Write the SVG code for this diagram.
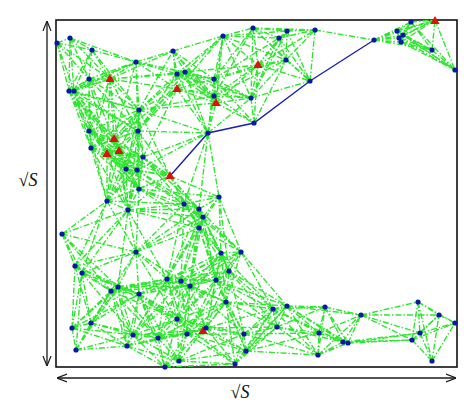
<svg xmlns="http://www.w3.org/2000/svg" xmlns:xlink="http://www.w3.org/1999/xlink" width="474" height="420" viewBox="0 0 474 420">
<style>
.e{fill:none;stroke:#2ee62e;stroke-width:1.4;stroke-dasharray:6 2 1.5 2}
.n{fill:#0a18a8}
.t{fill:#e01010}
.ax{fill:none;stroke:#1a1a1a;stroke-width:1.3}
.lb{font-family:"Liberation Serif",serif;font-size:18px;fill:#111}
</style>
<defs>
<marker id="ah" viewBox="0 0 10 10" refX="10" refY="5" markerWidth="10" markerHeight="10" markerUnits="userSpaceOnUse" orient="auto-start-reverse"><path d="M0 1L10 5L0 9" fill="none" stroke="#1a1a1a" stroke-width="1.2"/></marker>
<path id="tri" d="M0 -5L4.6 3L-4.6 3Z"/>
</defs>
<rect x="0" y="0" width="474" height="420" fill="#fff"/>
<rect x="56" y="20" width="401" height="347" fill="none" stroke="#111" stroke-width="1.6"/>
<line class="ax" x1="47" y1="21" x2="47" y2="366" marker-start="url(#ah)" marker-end="url(#ah)"/>
<line class="ax" x1="57" y1="378" x2="456" y2="378" marker-start="url(#ah)" marker-end="url(#ah)"/>
<text class="lb" x="28" y="186" text-anchor="middle">√<tspan font-style="italic">S</tspan></text>
<text class="lb" x="240" y="398" text-anchor="middle">√<tspan font-style="italic">S</tspan></text>
<g id="connectors" class="e">
<path d="M57 43L69 91M57 43L70 38M57 43L74 91M57 43L89 79M57 43L92 50M57 43L110 79"/>
<path d="M62 234L75 266M62 234L82 273M62 234L107 201M62 234L111 291M62 234L118 287M62 234L128 210M62 234L136 252"/>
<path d="M69 91L70 38M69 91L74 91M69 91L89 79M69 91L89 131M69 91L91 148M69 91L92 50M69 91L107 154M69 91L110 79M69 91L114 139M69 91L119 151M69 91L136 62M69 91L138 131M69 91L139 110"/>
<path d="M70 38L74 91M70 38L89 79M70 38L92 50M70 38L110 79M70 38L136 62"/>
<path d="M72 328L75 266M72 328L76 350M72 328L82 273M72 328L91 323M72 328L111 291M72 328L118 287M72 328L127 346M72 328L133 335M72 328L139 294"/>
<path d="M74 91L89 79M74 91L89 131M74 91L91 148M74 91L92 50M74 91L107 154M74 91L110 79M74 91L114 139M74 91L119 151M74 91L136 62M74 91L138 131M74 91L139 110"/>
<path d="M75 266L82 273M75 266L91 323M75 266L107 201M75 266L111 291M75 266L118 287M75 266L128 210M75 266L136 252M75 266L139 294"/>
<path d="M76 350L82 273M76 350L91 323M76 350L111 291M76 350L118 287M76 350L127 346M76 350L133 335"/>
<path d="M82 273L91 323M82 273L107 201M82 273L111 291M82 273L118 287M82 273L128 210M82 273L133 335M82 273L136 252M82 273L139 294"/>
<path d="M89 79L89 131M89 79L91 148M89 79L92 50M89 79L107 154M89 79L110 79M89 79L114 139M89 79L119 151M89 79L136 62M89 79L138 131M89 79L139 110"/>
<path d="M89 131L91 148M89 131L107 154M89 131L107 201M89 131L110 79M89 131L114 139M89 131L119 151M89 131L126 169M89 131L137 170M89 131L138 131M89 131L139 110M89 131L139 189M89 131L143 157"/>
<path d="M91 148L107 154M91 148L107 201M91 148L110 79M91 148L114 139M91 148L119 151M91 148L126 169M91 148L128 210M91 148L137 170M91 148L138 131M91 148L139 110M91 148L139 189M91 148L143 157"/>
<path d="M91 323L111 291M91 323L118 287M91 323L127 346M91 323L133 335M91 323L139 294M91 323L158 338"/>
<path d="M92 50L110 79M92 50L136 62M92 50L139 110"/>
<path d="M107 154L107 201M107 154L110 79M107 154L114 139M107 154L119 151M107 154L126 169M107 154L128 210M107 154L137 170M107 154L138 131M107 154L139 110M107 154L139 189M107 154L143 157M107 154L170 176"/>
<path d="M107 201L114 139M107 201L119 151M107 201L126 169M107 201L128 210M107 201L136 252M107 201L137 170M107 201L138 131M107 201L139 189M107 201L143 157M107 201L170 176M107 201L184 204"/>
<path d="M110 79L114 139M110 79L119 151M110 79L136 62M110 79L138 131M110 79L139 110M110 79L173 51M110 79L177 74M110 79L177 89M110 79L185 72"/>
<path d="M111 291L118 287M111 291L127 346M111 291L133 335M111 291L136 252M111 291L139 294M111 291L158 338M111 291L167 279M111 291L177 319M111 291L181 281M111 291L190 286"/>
<path d="M114 139L119 151M114 139L126 169M114 139L128 210M114 139L136 62M114 139L137 170M114 139L138 131M114 139L139 110M114 139L139 189M114 139L143 157M114 139L170 176M114 139L177 89"/>
<path d="M118 287L127 346M118 287L128 210M118 287L133 335M118 287L136 252M118 287L139 294M118 287L158 338M118 287L167 279M118 287L177 319M118 287L181 281M118 287L190 286"/>
<path d="M119 151L126 169M119 151L128 210M119 151L137 170M119 151L138 131M119 151L139 110M119 151L139 189M119 151L143 157M119 151L170 176"/>
<path d="M126 169L128 210M126 169L137 170M126 169L138 131M126 169L139 110M126 169L139 189M126 169L143 157M126 169L170 176M126 169L184 204"/>
<path d="M127 346L133 335M127 346L139 294M127 346L158 338M127 346L165 367M127 346L167 279M127 346L177 319M127 346L179 361M127 346L187 334M127 346L203 330"/>
<path d="M128 210L136 252M128 210L137 170M128 210L138 131M128 210L139 189M128 210L143 157M128 210L167 279M128 210L170 176M128 210L184 204M128 210L199 209M128 210L199 228M128 210L203 217"/>
<path d="M133 335L139 294M133 335L158 338M133 335L165 367M133 335L167 279M133 335L177 319M133 335L179 361M133 335L181 281M133 335L187 334M133 335L190 286M133 335L203 330"/>
<path d="M136 62L138 131M136 62L139 110M136 62L173 51M136 62L177 74M136 62L177 89M136 62L185 72M136 62L214 79"/>
<path d="M136 252L139 189M136 252L139 294M136 252L167 279M136 252L177 319M136 252L181 281M136 252L184 204M136 252L190 286M136 252L199 209M136 252L199 228M136 252L203 217"/>
<path d="M137 170L138 131M137 170L139 110M137 170L139 189M137 170L143 157M137 170L170 176M137 170L184 204M137 170L199 209M137 170L208 133"/>
<path d="M138 131L139 110M138 131L139 189M138 131L143 157M138 131L170 176M138 131L177 74M138 131L177 89M138 131L185 72M138 131L208 133"/>
<path d="M139 110L139 189M139 110L143 157M139 110L170 176M139 110L173 51M139 110L177 74M139 110L177 89M139 110L185 72M139 110L208 133M139 110L214 96M139 110L216 103"/>
<path d="M139 189L143 157M139 189L170 176M139 189L184 204M139 189L199 209M139 189L199 228M139 189L203 217M139 189L219 197"/>
<path d="M139 294L158 338M139 294L165 367M139 294L167 279M139 294L177 319M139 294L179 361M139 294L181 281M139 294L187 334M139 294L190 286M139 294L203 330M139 294L216 280"/>
<path d="M143 157L170 176M143 157L177 89M143 157L184 204M143 157L199 209M143 157L208 133"/>
<path d="M158 338L165 367M158 338L167 279M158 338L177 319M158 338L179 361M158 338L181 281M158 338L187 334M158 338L190 286M158 338L203 330M158 338L226 302"/>
<path d="M165 367L177 319M165 367L179 361M165 367L187 334M165 367L203 330M165 367L235 364"/>
<path d="M167 279L177 319M167 279L181 281M167 279L184 204M167 279L187 334M167 279L190 286M167 279L199 209M167 279L199 228M167 279L203 217M167 279L206 328M167 279L216 280M167 279L221 253M167 279L226 302M167 279L229 271M167 279L241 252"/>
<path d="M170 176L184 204M170 176L199 209M170 176L199 228M170 176L203 217M170 176L219 197"/>
<path d="M173 51L177 74M173 51L177 89M173 51L185 72M173 51L214 79M173 51L214 96M173 51L216 103M173 51L223 36"/>
<path d="M177 74L177 89M177 74L185 72M177 74L208 133M177 74L214 79M177 74L214 96M177 74L216 103M177 74L223 36M177 74L251 98"/>
<path d="M177 89L185 72M177 89L208 133M177 89L214 79M177 89L214 96M177 89L216 103M177 89L223 36M177 89L251 98"/>
<path d="M177 319L179 361M177 319L181 281M177 319L187 334M177 319L190 286M177 319L206 328M177 319L216 280M177 319L221 253M177 319L226 302M177 319L229 271M177 319L235 364M177 319L244 334M177 319L246 351"/>
<path d="M179 361L187 334M179 361L190 286M179 361L203 330M179 361L226 302M179 361L235 364M179 361L244 334M179 361L246 351"/>
<path d="M181 281L184 204M181 281L187 334M181 281L190 286M181 281L199 209M181 281L199 228M181 281L203 217M181 281L206 328M181 281L216 280M181 281L221 253M181 281L226 302M181 281L229 271M181 281L241 252"/>
<path d="M184 204L199 209M184 204L199 228M184 204L203 217M184 204L208 133M184 204L219 197M184 204L221 253M184 204L241 252"/>
<path d="M185 72L208 133M185 72L214 79M185 72L214 96M185 72L216 103M185 72L223 36M185 72L251 98M185 72L258 65"/>
<path d="M187 334L190 286M187 334L206 328M187 334L216 280M187 334L226 302M187 334L229 271M187 334L235 364M187 334L244 334M187 334L246 351"/>
<path d="M190 286L199 209M190 286L199 228M190 286L203 217M190 286L206 328M190 286L216 280M190 286L221 253M190 286L226 302M190 286L229 271M190 286L241 252M190 286L244 334"/>
<path d="M199 209L199 228M199 209L203 217M199 209L208 133M199 209L216 280M199 209L219 197M199 209L221 253M199 209L229 271M199 209L241 252"/>
<path d="M199 228L203 217M199 228L216 280M199 228L219 197M199 228L221 253M199 228L226 302M199 228L229 271M199 228L241 252"/>
<path d="M203 217L216 280M203 217L219 197M203 217L221 253M203 217L229 271M203 217L241 252"/>
<path d="M206 328L216 280M206 328L221 253M206 328L226 302M206 328L229 271M206 328L235 364M206 328L244 334M206 328L246 351M206 328L273 309M206 328L277 327"/>
<path d="M208 133L214 79M208 133L214 96M208 133L216 103M208 133L219 197M208 133L251 98"/>
<path d="M214 79L214 96M214 79L216 103M214 79L223 36M214 79L251 98M214 79L253 28M214 79L254 123M214 79L258 65M214 79L279 38M214 79L286 60"/>
<path d="M214 96L216 103M214 96L223 36M214 96L251 98M214 96L253 28M214 96L254 123M214 96L258 65M214 96L286 60"/>
<path d="M216 103L223 36M216 103L251 98M216 103L254 123M216 103L258 65"/>
<path d="M216 280L221 253M216 280L226 302M216 280L229 271M216 280L241 252M216 280L244 334M216 280L246 351M216 280L273 309M216 280L277 327M216 280L287 306"/>
<path d="M219 197L221 253M219 197L229 271M219 197L241 252"/>
<path d="M221 253L226 302M221 253L229 271M221 253L241 252M221 253L273 309"/>
<path d="M223 36L251 98M223 36L253 28M223 36L258 65M223 36L279 38M223 36L286 60M223 36L287 31"/>
<path d="M226 302L229 271M226 302L235 364M226 302L241 252M226 302L244 334M226 302L246 351M226 302L273 309M226 302L277 327M226 302L287 306"/>
<path d="M229 271L241 252M229 271L244 334M229 271L273 309M229 271L277 327M229 271L287 306"/>
<path d="M235 364L244 334M235 364L246 351M235 364L273 309M235 364L277 327M235 364L287 306"/>
<path d="M241 252L273 309M241 252L287 306"/>
<path d="M244 334L246 351M244 334L273 309M244 334L277 327M244 334L287 306M244 334L318 355M244 334L319 333"/>
<path d="M246 351L273 309M246 351L277 327M246 351L287 306M246 351L318 355M246 351L319 333"/>
<path d="M251 98L253 28M251 98L254 123M251 98L258 65M251 98L279 38M251 98L286 60M251 98L287 31M251 98L310 81"/>
<path d="M253 28L258 65M253 28L279 38M253 28L286 60M253 28L287 31M253 28L310 81M253 28L315 30"/>
<path d="M254 123L258 65M254 123L286 60"/>
<path d="M258 65L279 38M258 65L286 60M258 65L287 31M258 65L310 81M258 65L315 30"/>
<path d="M273 309L277 327M273 309L287 306M273 309L318 355M273 309L319 333M273 309L325 307M273 309L343 342"/>
<path d="M277 327L287 306M277 327L318 355M277 327L319 333M277 327L325 307M277 327L343 342M277 327L348 343"/>
<path d="M279 38L286 60M279 38L287 31M279 38L310 81M279 38L315 30"/>
<path d="M286 60L287 31M286 60L310 81M286 60L315 30"/>
<path d="M287 31L310 81M287 31L315 30"/>
<path d="M287 306L318 355M287 306L319 333M287 306L325 307M287 306L343 342M287 306L348 343M287 306L361 315"/>
<path d="M310 81L315 30M315 30L374 40"/>
<path d="M318 355L319 333M318 355L325 307M318 355L343 342M318 355L348 343M318 355L361 315"/>
<path d="M319 333L325 307M319 333L343 342M319 333L348 343M319 333L361 315"/>
<path d="M325 307L343 342M325 307L348 343M325 307L361 315"/>
<path d="M343 342L348 343M343 342L361 315M343 342L412 340M343 342L420 333"/>
<path d="M348 343L361 315M348 343L412 340M348 343L420 333"/>
<path d="M361 315L412 340M361 315L418 302M361 315L420 333M361 315L439 315"/>
<path d="M374 40L397 31M374 40L399 38M374 40L401 42M374 40L403 35M374 40L411 22M374 40L432 50M374 40L435 20"/>
<path d="M397 31L399 38M397 31L401 42M397 31L403 35M397 31L411 22M397 31L432 50M397 31L435 20M397 31L455 70"/>
<path d="M399 38L401 42M399 38L403 35M399 38L411 22M399 38L432 50M399 38L435 20M399 38L455 70"/>
<path d="M401 42L403 35M401 42L411 22M401 42L432 50M401 42L435 20M401 42L455 70"/>
<path d="M403 35L411 22M403 35L432 50M403 35L435 20M403 35L455 70"/>
<path d="M411 22L432 50M411 22L435 20M411 22L455 70M432 50L435 20M432 50L455 70M435 20L455 70"/>
<path d="M412 340L418 302M412 340L420 333M412 340L432 361M412 340L439 315M412 340L455 323"/>
<path d="M418 302L420 333M418 302L432 361M418 302L439 315M418 302L455 323"/>
<path d="M420 333L432 361M420 333L439 315M420 333L455 323M432 361L439 315M432 361L455 323M439 315L455 323"/>
<path id="route" d="M170 176L208 133L254 123L310 81L374 40" style="stroke:#1a22b0;stroke-width:1.4;stroke-dasharray:none"/>
</g>
<g id="nodes">
<g id="t-f19"><use xlink:href="#tri" x="203" y="331" class="t"/></g>
<g id="n-a1"><circle class="n" cx="57" cy="43" r="2.6"/></g>
<g id="n-a2"><circle class="n" cx="70" cy="38" r="2.6"/></g>
<g id="n-a3"><circle class="n" cx="92" cy="50" r="2.6"/></g>
<g id="n-a4"><circle class="n" cx="136" cy="62" r="2.6"/></g>
<g id="n-a5"><circle class="n" cx="89" cy="79" r="2.6"/></g>
<g id="n-a7"><circle class="n" cx="69" cy="91" r="2.6"/></g>
<g id="n-a8"><circle class="n" cx="74" cy="91" r="2.6"/></g>
<g id="n-a9"><circle class="n" cx="139" cy="110" r="2.6"/></g>
<g id="n-a10"><circle class="n" cx="89" cy="131" r="2.6"/></g>
<g id="n-a11"><circle class="n" cx="138" cy="131" r="2.6"/></g>
<g id="n-b1"><circle class="n" cx="173" cy="51" r="2.6"/></g>
<g id="n-b2"><circle class="n" cx="177" cy="74" r="2.6"/></g>
<g id="n-b3"><circle class="n" cx="185" cy="72" r="2.6"/></g>
<g id="n-b5"><circle class="n" cx="223" cy="36" r="2.6"/></g>
<g id="n-b6"><circle class="n" cx="253" cy="28" r="2.6"/></g>
<g id="n-b7"><circle class="n" cx="214" cy="79" r="2.6"/></g>
<g id="n-b8"><circle class="n" cx="214" cy="96" r="2.6"/></g>
<g id="n-b11"><circle class="n" cx="251" cy="98" r="2.6"/></g>
<g id="n-b12"><circle class="n" cx="254" cy="123" r="2.6"/></g>
<g id="n-b13"><circle class="n" cx="208" cy="133" r="2.6"/></g>
<g id="n-c1"><circle class="n" cx="279" cy="38" r="2.6"/></g>
<g id="n-c2"><circle class="n" cx="287" cy="31" r="2.6"/></g>
<g id="n-c3"><circle class="n" cx="315" cy="30" r="2.6"/></g>
<g id="n-c4"><circle class="n" cx="286" cy="60" r="2.6"/></g>
<g id="n-c5"><circle class="n" cx="310" cy="81" r="2.6"/></g>
<g id="n-c6"><circle class="n" cx="374" cy="40" r="2.6"/></g>
<g id="n-d1"><circle class="n" cx="411" cy="22" r="2.6"/></g>
<g id="n-d3"><circle class="n" cx="397" cy="31" r="2.6"/></g>
<g id="n-d4"><circle class="n" cx="403" cy="35" r="2.6"/></g>
<g id="n-d5"><circle class="n" cx="399" cy="38" r="2.6"/></g>
<g id="n-d6"><circle class="n" cx="401" cy="42" r="2.6"/></g>
<g id="n-d7"><circle class="n" cx="432" cy="50" r="2.6"/></g>
<g id="n-d8"><circle class="n" cx="455" cy="70" r="2.6"/></g>
<g id="n-e1"><circle class="n" cx="91" cy="148" r="2.6"/></g>
<g id="n-e5"><circle class="n" cx="143" cy="157" r="2.6"/></g>
<g id="n-e6"><circle class="n" cx="126" cy="169" r="2.6"/></g>
<g id="n-e7"><circle class="n" cx="137" cy="170" r="2.6"/></g>
<g id="n-e9"><circle class="n" cx="139" cy="189" r="2.6"/></g>
<g id="n-e10"><circle class="n" cx="107" cy="201" r="2.6"/></g>
<g id="n-e11"><circle class="n" cx="128" cy="210" r="2.6"/></g>
<g id="n-e12"><circle class="n" cx="184" cy="204" r="2.6"/></g>
<g id="n-e13"><circle class="n" cx="62" cy="234" r="2.6"/></g>
<g id="n-e14"><circle class="n" cx="219" cy="197" r="2.6"/></g>
<g id="n-e15"><circle class="n" cx="199" cy="209" r="2.6"/></g>
<g id="n-e16"><circle class="n" cx="203" cy="217" r="2.6"/></g>
<g id="n-e17"><circle class="n" cx="199" cy="228" r="2.6"/></g>
<g id="n-f1"><circle class="n" cx="136" cy="252" r="2.6"/></g>
<g id="n-f2"><circle class="n" cx="221" cy="253" r="2.6"/></g>
<g id="n-f3"><circle class="n" cx="241" cy="252" r="2.6"/></g>
<g id="n-f4"><circle class="n" cx="75" cy="266" r="2.6"/></g>
<g id="n-f5"><circle class="n" cx="82" cy="273" r="2.6"/></g>
<g id="n-f6"><circle class="n" cx="229" cy="271" r="2.6"/></g>
<g id="n-f7"><circle class="n" cx="167" cy="279" r="2.6"/></g>
<g id="n-f8"><circle class="n" cx="181" cy="281" r="2.6"/></g>
<g id="n-f9"><circle class="n" cx="216" cy="280" r="2.6"/></g>
<g id="n-f10"><circle class="n" cx="111" cy="291" r="2.6"/></g>
<g id="n-f11"><circle class="n" cx="118" cy="287" r="2.6"/></g>
<g id="n-f12"><circle class="n" cx="139" cy="294" r="2.6"/></g>
<g id="n-f13"><circle class="n" cx="190" cy="286" r="2.6"/></g>
<g id="n-f14"><circle class="n" cx="226" cy="302" r="2.6"/></g>
<g id="n-f15"><circle class="n" cx="177" cy="319" r="2.6"/></g>
<g id="n-f16"><circle class="n" cx="91" cy="323" r="2.6"/></g>
<g id="n-f17"><circle class="n" cx="72" cy="328" r="2.6"/></g>
<g id="n-f18"><circle class="n" cx="206" cy="328" r="2.6"/></g>
<g id="n-f20"><circle class="n" cx="133" cy="335" r="2.6"/></g>
<g id="n-f21"><circle class="n" cx="158" cy="338" r="2.6"/></g>
<g id="n-f22"><circle class="n" cx="187" cy="334" r="2.6"/></g>
<g id="n-f23"><circle class="n" cx="244" cy="334" r="2.6"/></g>
<g id="n-f24"><circle class="n" cx="127" cy="346" r="2.6"/></g>
<g id="n-f25"><circle class="n" cx="76" cy="350" r="2.6"/></g>
<g id="n-f26"><circle class="n" cx="246" cy="351" r="2.6"/></g>
<g id="n-f27"><circle class="n" cx="179" cy="361" r="2.6"/></g>
<g id="n-f28"><circle class="n" cx="165" cy="367" r="2.6"/></g>
<g id="n-f29"><circle class="n" cx="235" cy="364" r="2.6"/></g>
<g id="n-g1"><circle class="n" cx="273" cy="309" r="2.6"/></g>
<g id="n-g2"><circle class="n" cx="287" cy="306" r="2.6"/></g>
<g id="n-g3"><circle class="n" cx="325" cy="307" r="2.6"/></g>
<g id="n-g4"><circle class="n" cx="361" cy="315" r="2.6"/></g>
<g id="n-g5"><circle class="n" cx="418" cy="302" r="2.6"/></g>
<g id="n-g6"><circle class="n" cx="439" cy="315" r="2.6"/></g>
<g id="n-g7"><circle class="n" cx="455" cy="323" r="2.6"/></g>
<g id="n-g8"><circle class="n" cx="277" cy="327" r="2.6"/></g>
<g id="n-g9"><circle class="n" cx="319" cy="333" r="2.6"/></g>
<g id="n-g10"><circle class="n" cx="420" cy="333" r="2.6"/></g>
<g id="n-g11"><circle class="n" cx="412" cy="340" r="2.6"/></g>
<g id="n-g12"><circle class="n" cx="343" cy="342" r="2.6"/></g>
<g id="n-g13"><circle class="n" cx="348" cy="343" r="2.6"/></g>
<g id="n-g14"><circle class="n" cx="318" cy="355" r="2.6"/></g>
<g id="n-g15"><circle class="n" cx="432" cy="361" r="2.6"/></g>
<g id="t-a6"><use xlink:href="#tri" x="110" y="79" class="t"/></g>
<g id="t-b4"><use xlink:href="#tri" x="177" y="89" class="t"/></g>
<g id="t-b9"><use xlink:href="#tri" x="216" y="103" class="t"/></g>
<g id="t-b10"><use xlink:href="#tri" x="258" y="65" class="t"/></g>
<g id="t-d2"><use xlink:href="#tri" x="435" y="21" class="t"/></g>
<g id="t-e2"><use xlink:href="#tri" x="114" y="139" class="t"/></g>
<g id="t-e3"><use xlink:href="#tri" x="107" y="154" class="t"/></g>
<g id="t-e4"><use xlink:href="#tri" x="119" y="151" class="t"/></g>
<g id="t-e8"><use xlink:href="#tri" x="170" y="176" class="t"/></g>
</g>
</svg>
